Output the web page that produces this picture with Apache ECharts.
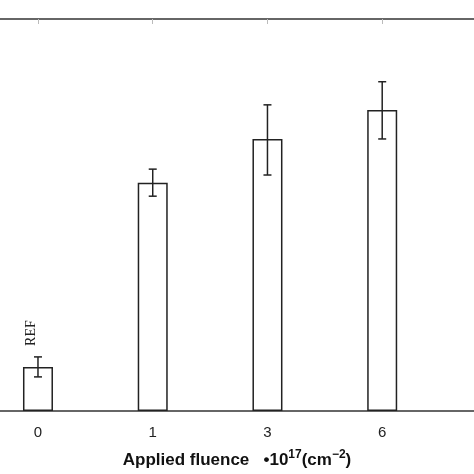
<!DOCTYPE html>
<html>
<head>
<meta charset="utf-8">
<script src="https://cdn.jsdelivr.net/npm/echarts@6/dist/echarts.min.js"></script>
<style>html,body{margin:0;padding:0;background:#fff}#chart{width:474px;height:474px}</style>
</head>
<body>
<div id="chart"></div>
<script>
var categories = ['0', '1', '3', '6'];
var values = [0.112, 0.582, 0.694, 0.768];
var errLow = [0.087, 0.548, 0.602, 0.694];
var errHigh = [0.138, 0.617, 0.781, 0.840];
var labels = ['REF', '', '', ''];
var positions = categories.map(function (c, i) { return i; });

var mychart = echarts.init(document.getElementById('chart'));
var tickStyle = { inside: true, length: 5, customValues: positions, lineStyle: { color: '#bbb' } };
var option = {
    animation: false,
    grid: { left: 0, right: 0, top: 19, bottom: 63 },
    xAxis: [
        {
            type: 'value', min: -0.331, max: 3.8,
            position: 'bottom',
            splitLine: { show: false },
            axisLine: { lineStyle: { color: '#333', width: 1.5 } },
            axisTick: tickStyle,
            axisLabel: {
                customValues: positions,
                formatter: function (v) { return categories[Math.round(v)]; },
                color: '#222', fontSize: 15, fontFamily: 'Liberation Sans', margin: 14
            },
            name: '{b|Applied fluence   •10}{s|17}{b|(cm}{s|−2}{b|)}',
            nameLocation: 'middle',
            nameGap: 38,
            nameTextStyle: {
                rich: {
                    b: { fontSize: 17, fontWeight: 'bold', fontFamily: 'Liberation Sans', color: '#111', verticalAlign: 'bottom' },
                    s: { fontSize: 12, fontWeight: 'bold', fontFamily: 'Liberation Sans', color: '#111', verticalAlign: 'top', padding: [0, 0, 8, 0] }
                }
            }
        },
        {
            type: 'value', min: -0.331, max: 3.8,
            position: 'top',
            splitLine: { show: false },
            axisLine: { lineStyle: { color: '#333', width: 1.5 } },
            axisTick: tickStyle,
            axisLabel: { show: false }
        }
    ],
    yAxis: {
        type: 'value', min: 0, max: 1,
        axisLine: { show: false }, axisTick: { show: false },
        axisLabel: { show: false }, splitLine: { show: false }
    },
    series: [
        {
            type: 'bar',
            barWidth: 30,
            data: values.map(function (v, i) {
                return {
                    value: [i, v],
                    label: {
                        show: labels[i] !== '', formatter: labels[i], position: 'top',
                        rotate: 90, distance: 34, fontFamily: 'Liberation Serif', fontSize: 14, color: '#222'
                    }
                };
            }),
            itemStyle: { color: '#fff', borderColor: '#222', borderWidth: 1.5 }
        },
        {
            type: 'custom',
            data: errLow.map(function (lo, i) { return [i, lo, errHigh[i]]; }),
            renderItem: function (params, api) {
                var lo = api.coord([api.value(0), api.value(1)]);
                var hi = api.coord([api.value(0), api.value(2)]);
                var w = 4;
                var st = { stroke: '#222', lineWidth: 1.5 };
                return {
                    type: 'group',
                    children: [
                        { type: 'line', shape: { x1: lo[0], y1: lo[1], x2: hi[0], y2: hi[1] }, style: st },
                        { type: 'line', shape: { x1: lo[0] - w, y1: lo[1], x2: lo[0] + w, y2: lo[1] }, style: st },
                        { type: 'line', shape: { x1: hi[0] - w, y1: hi[1], x2: hi[0] + w, y2: hi[1] }, style: st }
                    ]
                };
            },
            z: 10
        }
    ]
};
mychart.setOption(option);
</script>
</body>
</html>
